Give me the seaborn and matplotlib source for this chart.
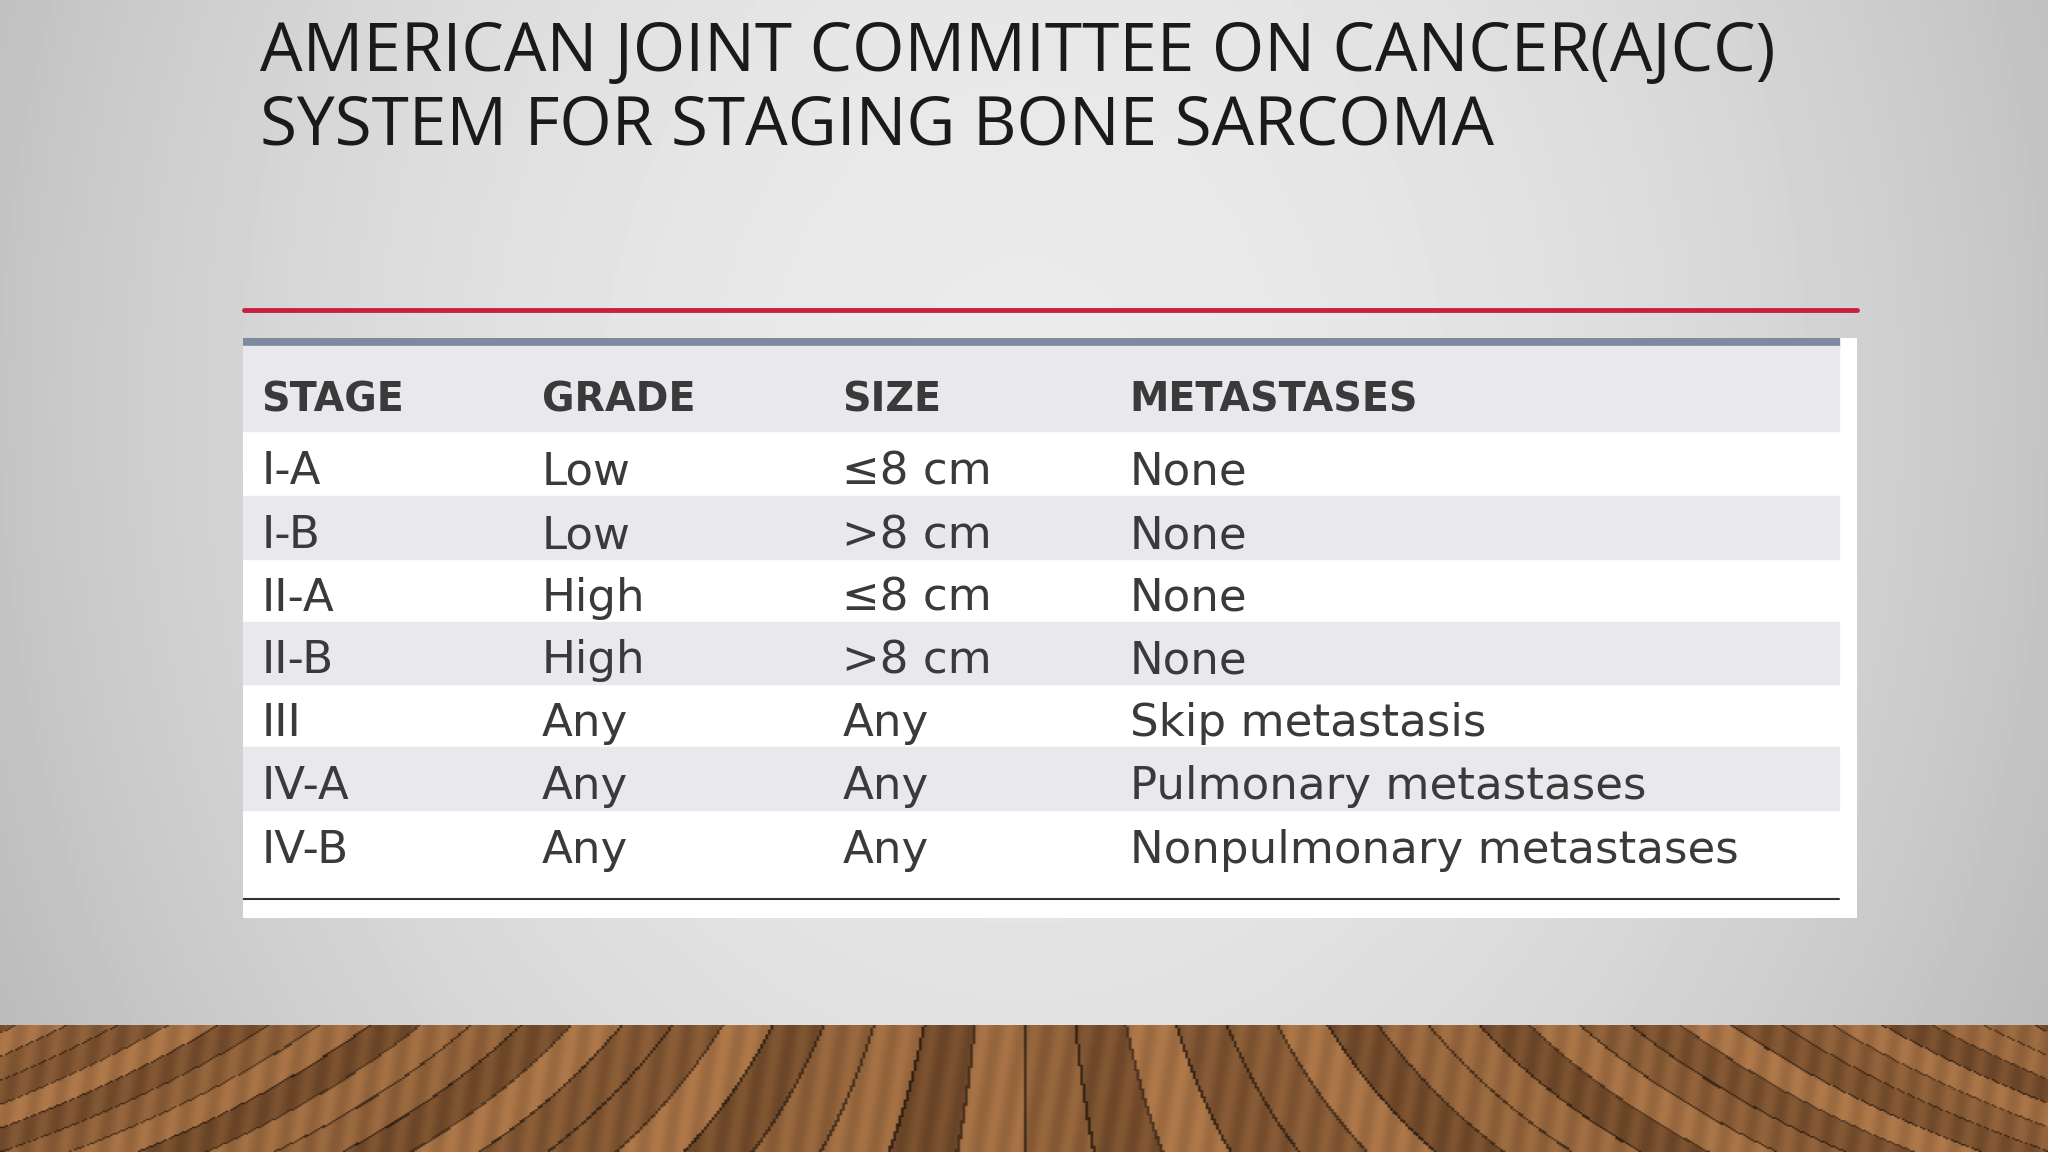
import numpy as np
import matplotlib
matplotlib.use("Agg")
import matplotlib.pyplot as plt
import seaborn as sns
import pandas as pd

sns.set_theme(style="white")
plt.rcParams['font.family'] = ['Open Sans', 'DejaVu Sans']

title_lines = ["AMERICAN JOINT COMMITTEE ON CANCER(AJCC)", "SYSTEM FOR STAGING BONE SARCOMA"]
headers = ["STAGE", "GRADE", "SIZE", "METASTASES"]
stages = ["I-A", "I-B", "II-A", "II-B", "III", "IV-A", "IV-B"]
grades = ["Low", "Low", "High", "High", "Any", "Any", "Any"]
sizes = ["≤8 cm", ">8 cm", "≤8 cm", ">8 cm", "Any", "Any", "Any"]
metastases = ["None", "None", "None", "None", "Skip metastasis",
              "Pulmonary metastases", "Nonpulmonary metastases"]

W, H = 1568, 882
fig = plt.figure(figsize=(20.48, 11.52), dpi=100)

def rect(x0, y0, x1, y1):
    return [x0 / W, 1 - y1 / H, (x1 - x0) / W, (y1 - y0) / H]

# background gradient
bg = fig.add_axes([0, 0, 1, 1]); bg.axis("off")
yy, xx = np.mgrid[0:1:300j, 0:1:500j]
val = 0.92 - 0.25 * ((xx - 0.5) ** 2 * 2.4 + (yy - 0.35) ** 2 * 0.5)
bg.imshow(val, cmap="gray", vmin=0, vmax=1, extent=[0, 1, 0, 1], aspect="auto")
bg.set_xlim(0, 1); bg.set_ylim(0, 1)

# wooden floor
fl = fig.add_axes(rect(0, 785, W, H)); fl.axis("off")
n = 800
xs = np.linspace(0, 1, n)
ys = np.linspace(0, 1, 80)
X, Y = np.meshgrid(xs, ys)
U = (X + 0.35 * (1 - Y) * (X - 0.5)) * 30
plank = np.floor(U)
tone = 0.5 + 0.25 * np.sin(plank * 2.3) + 0.1 * np.sin(X * 500 + Y * 5)
floor = np.stack([0.35 + 0.4 * tone, 0.22 + 0.3 * tone, 0.12 + 0.2 * tone], axis=-1)
floor[np.abs(U % 1) < 0.05] *= 0.45
fl.imshow(np.clip(floor, 0, 1), extent=[0, 1, 0, 1], aspect="auto")

# title
for i, t in enumerate(title_lines):
    fig.text(199 / W, 1 - (41 + 56 * i) / H, t, fontsize=48.5, color="#1a1a1a",
             va="center", ha="left")

# red line
fig.add_artist(plt.Line2D([187 / W, 1422 / W], [1 - 237 / H] * 2, color="#c8203f", lw=3.5))

# table
ax = fig.add_axes(rect(186, 259, 1422, 703))
nrows = len(stages)
ax.set_xlim(186, 1422)
ax.set_ylim(703, 259)
ax.axis("off")
ax.add_patch(plt.Rectangle((186, 259), 1236, 444, color="white", zorder=0))
ax.add_patch(plt.Rectangle((186, 259), 1222, 6, color="#7d8aa0", zorder=1))
row_bounds = [265, 330, 380, 428, 476, 524, 572, 620, 670]
df = pd.DataFrame({"STAGE": stages, "GRADE": grades, "SIZE": sizes, "METASTASES": metastases})
col_x = [200, 415, 645, 865]
for r in range(nrows + 1):
    top, bot = row_bounds[r], row_bounds[r + 1]
    if r % 2 == 0:
        ax.add_patch(plt.Rectangle((186, top), 1222, bot - top, color="#e9e9ed", zorder=1))
    yc = (top + bot) / 2 + (6 if r else 9)
    for c, x in enumerate(col_x):
        txt = headers[c] if r == 0 else df.iloc[r - 1, c]
        ax.text(x, yc, txt, fontsize=28.5 if r == 0 else 32.5,
                fontweight="bold" if r == 0 else "normal",
                color="#3a3a3a", va="center", ha="left", zorder=2,
                family=["DejaVu Sans"])
ax.plot([186, 1408], [688, 688], color="#333333", lw=1.5, zorder=2)

fig.savefig("out.png", dpi=100)
